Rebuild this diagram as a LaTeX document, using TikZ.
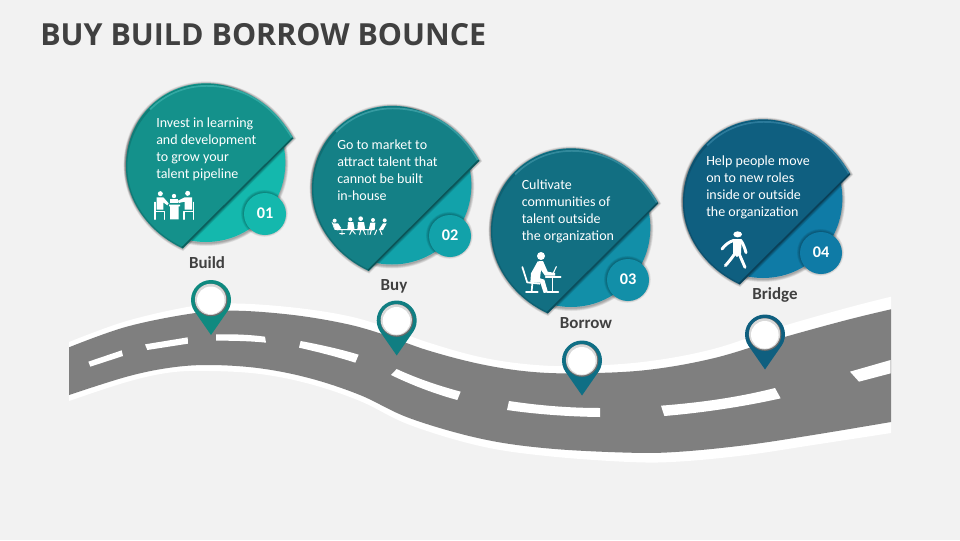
\documentclass[tikz,border=0pt]{standalone}
\usepackage{fontspec}
\setmainfont{Carlito}
\newfontfamily\titlefont{Open Sans}
\definecolor{bgc}{HTML}{F2F2F2}
\definecolor{roadc}{HTML}{7F7F7F}
\definecolor{inkc}{HTML}{404040}
\definecolor{da}{HTML}{14918B}\definecolor{la}{HTML}{14B8AD}\definecolor{ea}{HTML}{0B5E5C}\definecolor{ha}{HTML}{35ABA5}
\definecolor{db}{HTML}{148086}\definecolor{lb}{HTML}{12A2AA}\definecolor{eb}{HTML}{0B5558}\definecolor{hb}{HTML}{3A9FA5}
\definecolor{dc}{HTML}{126F82}\definecolor{lc}{HTML}{128FA8}\definecolor{ec}{HTML}{0B4D5C}\definecolor{hc}{HTML}{358C9E}
\definecolor{dd}{HTML}{0F5F80}\definecolor{ld}{HTML}{0F7BA6}\definecolor{ed}{HTML}{0A4058}\definecolor{hd}{HTML}{2F7E9E}
\definecolor{pa}{HTML}{0F8A80}\definecolor{pb}{HTML}{107E82}\definecolor{pc}{HTML}{0F6F85}\definecolor{pd}{HTML}{0F5F7F}
\tikzset{
  bodytext/.style={text=white,align=left,anchor=north west,inner sep=0pt,font=\fontsize{10.5}{12.75}\selectfont},
  steplabel/.style={text=inkc,inner sep=0pt,anchor=base,font=\fontsize{12.7}{14}\selectfont\bfseries},
  numdot/.style={circle,minimum size=31.5pt,inner sep=0pt,text=white,font=\fontsize{12.2}{14}\selectfont\bfseries},
  ico/.style={fill=white,draw=none},
  icoline/.style={draw=white,line cap=round,line join=round,fill=none},
}
\def\frontpath{(550,205) .. controls (490,100) and (400,45) .. (290,45) .. controls (155,45) and (48,155) .. (48,290) .. controls (48,395) and (120,490) .. (218,535)}
\def\toppath{(550,205) .. controls (490,100) and (400,45) .. (290,45) .. controls (222,45) and (162,72) .. (118.4,116.9)}
\def\lowpath{(118.4,116.9) .. controls (74.75,161.25) and (48,222.5) .. (48,290) .. controls (48,395) and (120,490) .. (218,535)}
% dx dy dark light edge highlight
\newcommand{\blobshape}[6]{%
\begin{scope}[shift={(110+#1,70+#2)},scale=0.33333]
  \foreach \w in {1,2,...,6}{\draw[black,opacity=0.06,line width=\w*0.75pt] (288,281) circle[radius=238];}
  \fill[#4] (288,278) circle[radius=238];
  \foreach \w in {1,2,...,5}{\draw[black,opacity=0.07,line width=\w*0.7pt] \frontpath -- cycle;}
  \fill[#3] \frontpath -- cycle;
  \begin{scope}
    \clip \frontpath -- cycle;
    \draw[#6,line width=2.6pt,opacity=0.9] \toppath;
    \draw[#5,line width=2pt,opacity=0.4] \lowpath;
    \draw[#5,line width=2.4pt] (550,205) -- (218,535);
  \end{scope}
\end{scope}}
\newcommand{\pinshape}[3]{%
\begin{scope}[shift={(#1,#2)}]
  \fill[#3] (0,0) circle[radius=20] (-16.4,11.4) -- (16.4,11.4) -- (0,35) -- cycle;
  \fill[gray!85!black] (0,0) circle[radius=16.3];
  \fill[gray!30] (-0.4,-0.6) circle[radius=15.6];
  \fill[white] (-0.2,0.3) circle[radius=13.8];
\end{scope}}
\begin{document}
\begin{tikzpicture}[x=0.75pt,y=-0.75pt]
\useasboundingbox (0,0) rectangle (960,540);
\fill[bgc] (0,0) rectangle (960,540);
\node[anchor=base west,inner sep=0pt,text=inkc,font=\titlefont\fontsize{22.8}{28}\selectfont\bfseries] (title) at (40,45.5) {BUY BUILD BORROW BOUNCE};

% road
\fill[white] plot[smooth,tension=0.6] coordinates {(69,342)(126.7,321)(193.3,306)(236.7,303.5)(293.3,307.5)(343.3,315)(380,325)(426.7,342)(480,357)(530,364.5)(580,366)(646.7,361.5)(713.3,349)(780,327)(846.7,308)(891,296.7)}
  -- plot[smooth,tension=0.6] coordinates {(891,433)(813,445)(746.7,455)(680,461.5)(630,462)(546.7,456)(480,446)(410,425)(360,401)(310,384)(260,374)(210,371)(170,372.5)(126.7,382)(69,401)} -- cycle;
\fill[roadc] plot[smooth,tension=0.6] coordinates {(69,347.3)(126.7,326.7)(193.3,313.3)(236.7,310.7)(293.3,315)(343.3,323.3)(380,333.3)(426.7,350)(480,364)(530,371.7)(580,373.3)(646.7,370)(713.3,358.3)(780,338.3)(846.7,320)(891,309.3)}
  -- plot[smooth,tension=0.6] coordinates {(891,422)(813,435)(746.7,445)(680,451.7)(630,452.7)(546.7,448.3)(480,438.5)(410,418.3)(360,395)(310,378.3)(260,368.3)(210,365)(170,367.7)(126.7,376.7)(69,395)} -- cycle;
\begin{scope}[shift={(60,270)},scale=0.33333]
  \fill[white] (85,275)--(185,241)--(189,258)--(91,290)--cycle;
  \fill[white] (255,223)--(383,202)--(384,221)--(262,240)--cycle;
  \fill[white] (468,193)..controls (520,192) and (570,194)..(615,200)--(618,218)..controls (570,213) and (520,212)..(468,212)--cycle;
  \fill[white] (722,213)..controls (780,224) and (840,237)..(896,254)--(886,278)..controls (830,260) and (770,245)..(717,233)--cycle;
  \fill[white] (1010,297)..controls (1070,325) and (1135,347)..(1202,365)--(1192,390)..controls (1125,372) and (1055,345)..(993,315)--cycle;
\end{scope}
\begin{scope}[shift={(480,270)},scale=0.33333]
  \fill[white] (87,393)..controls (180,407) and (270,414)..(360,414)--(360,441)..controls (270,440) and (170,433)..(81,420)--cycle;
  \fill[white] (543,407)..controls (660,398) and (775,382)..(885,354)--(902,385)..controls (790,410) and (670,428)..(553,438)--cycle;
  \fill[white] (1110,305)--(1232,270)--(1232,310)--(1137,335)--cycle;
\end{scope}

% pins
\pinshape{211}{300}{pa}
\pinshape{396.7}{320.5}{pb}
\pinshape{582}{360.5}{pc}
\pinshape{765}{334.5}{pd}

% blobs
\blobshape{0}{0}{da}{la}{ea}{ha}
\blobshape{186}{22.5}{db}{lb}{eb}{hb}
\blobshape{365}{65}{dc}{lc}{ec}{hc}
\blobshape{557}{36}{dd}{ld}{ed}{hd}

% number discs
\foreach \x/\y/\c/\t/\nm in {265/214/la/01/na,450/236/lb/02/nb,628/280/lc/03/nc,821/253/ld/04/nd}{
  \foreach \w in {1,2,3,4}{\fill[black,opacity=0.07] (\x-0.6,\y-0.6) circle[radius=20.6+\w*0.7];}
  \node[numdot,fill=\c] (\nm) at (\x,\y) {\raisebox{1.3pt}{\t}};
}

% texts
\node[bodytext] (ta) at (156,117.5) {Invest in learning\\and development\\to grow your\\talent pipeline};
\node[bodytext] (tb) at (337,139.5) {Go to market to\\attract talent that\\cannot be built\\in-house};
\node[bodytext] (tc) at (521.5,179.5) {Cultivate\\communities of\\talent outside\\the organization};
\node[bodytext] (td) at (706,155.5) {Help people move\\on to new roles\\inside or outside\\the organization};

\node[steplabel] (la1) at (207,268) {Build};
\node[steplabel] (la2) at (394,290) {Buy};
\node[steplabel] (la3) at (586,328) {Borrow};
\node[steplabel] (la4) at (775,299) {Bridge};

% icon 1: three people at a table
\begin{scope}[shift={(150,185)},scale=0.33333]
  \fill[white] (31,26) circle[radius=7.5] (72,33) circle[radius=6.5] (113,25) circle[radius=7.5];
  \fill[ico] (20,37)--(40,37)--(56,55)--(52,61)--(40,52)--(40,74)--(20,74)--cycle;
  \fill[ico] (60,42)--(84,42)--(84,55)--(60,55)--cycle;
  \fill[ico] (126,37)--(104,37)--(84,47)--(86,54)--(104,50)--(104,74)--(126,74)--cycle;
  \fill[ico] (57,59)--(90,59)--(90,64)--(86,64)--(86,103)--(60,103)--(60,64)--(57,64)--cycle;
  \draw[icoline,line width=0.9pt] (15,52)--(15,103) (15,79)--(43,79)--(43,103) (130,52)--(130,103) (130,79)--(102,79)--(102,103);
\end{scope}

% icon 2: meeting silhouettes
\begin{scope}[shift={(328,210)},scale=0.33333]
  \fill[white] (20,32) circle[radius=6] (67,28) circle[radius=6] (98,26) circle[radius=7] (135,30) circle[radius=6] (170,31) circle[radius=6];
  \fill[ico] (14,40)--(30,40)--(40,55)--(25,60)--(20,55)--cycle;
  \fill[ico] (60,36)--(76,36)--(80,60)--(58,60)--cycle;
  \fill[ico] (90,36)--(108,36)--(112,60)--(88,60)--cycle;
  \fill[ico] (127,38)--(142,38)--(140,60)--(122,60)--cycle;
  \fill[ico] (165,40)--(176,40)--(165,60)--(152,60)--cycle;
  \draw[icoline,line width=0.7pt] (28,59)--(135,59) (42,59)--(42,74) (35,71)--(50,71) (72,60)--(65,74) (72,60)--(82,72) (98,60)--(95,74) (106,60)--(112,74) (120,60)--(120,74) (130,60)--(126,74) (146,60)--(140,74) (156,60)--(162,74);
  \draw[icoline,line width=0.5pt] (12,36)--(20,58)--(30,60);
\end{scope}

% icon 3: person at laptop
\begin{scope}[shift={(515,245)},scale=0.33333]
  \fill[white] (78,33) circle[radius=12];
  \fill[ico] (68,49)--(84,48)--(98,80)--(120,84)--(120,92)--(90,92)--(78,75)--(75,100)--(88,104)--(99,142)--(86,144)--(76,113)--(46,112)--(48,85)--cycle;
  \draw[icoline,line width=1.3pt] (22,66)--(36,110);
  \draw[icoline,line width=1.3pt] (36,112)--(74,116) (52,116)--(50,138);
  \draw[icoline,line width=1.3pt] (33,140)--(68,140);
  \draw[icoline,line width=1.2pt] (92,96)--(137,96) (113,96)--(113,138) (97,141)--(130,141);
  \draw[icoline,line width=0.8pt] (114,86)--(124,65);
\end{scope}

% icon 4: walking person
\begin{scope}[shift={(715,225)},scale=0.33333]
  \fill[white] (68,28) ellipse[x radius=13,y radius=9];
  \fill[ico] (54,42)--(80,42)--(78,85)--(66,96)--(54,85)--cycle;
  \draw[icoline,line width=2.2pt] (57,46) .. controls (42,50) and (30,60) .. (21,72)
    (77,46) .. controls (84,55) and (90,70) .. (93,83)
    (60,85) .. controls (50,100) and (40,112) .. (31,122)
    (72,85) .. controls (78,100) and (85,115) .. (90,127);
\end{scope}
\end{tikzpicture}
\end{document}
